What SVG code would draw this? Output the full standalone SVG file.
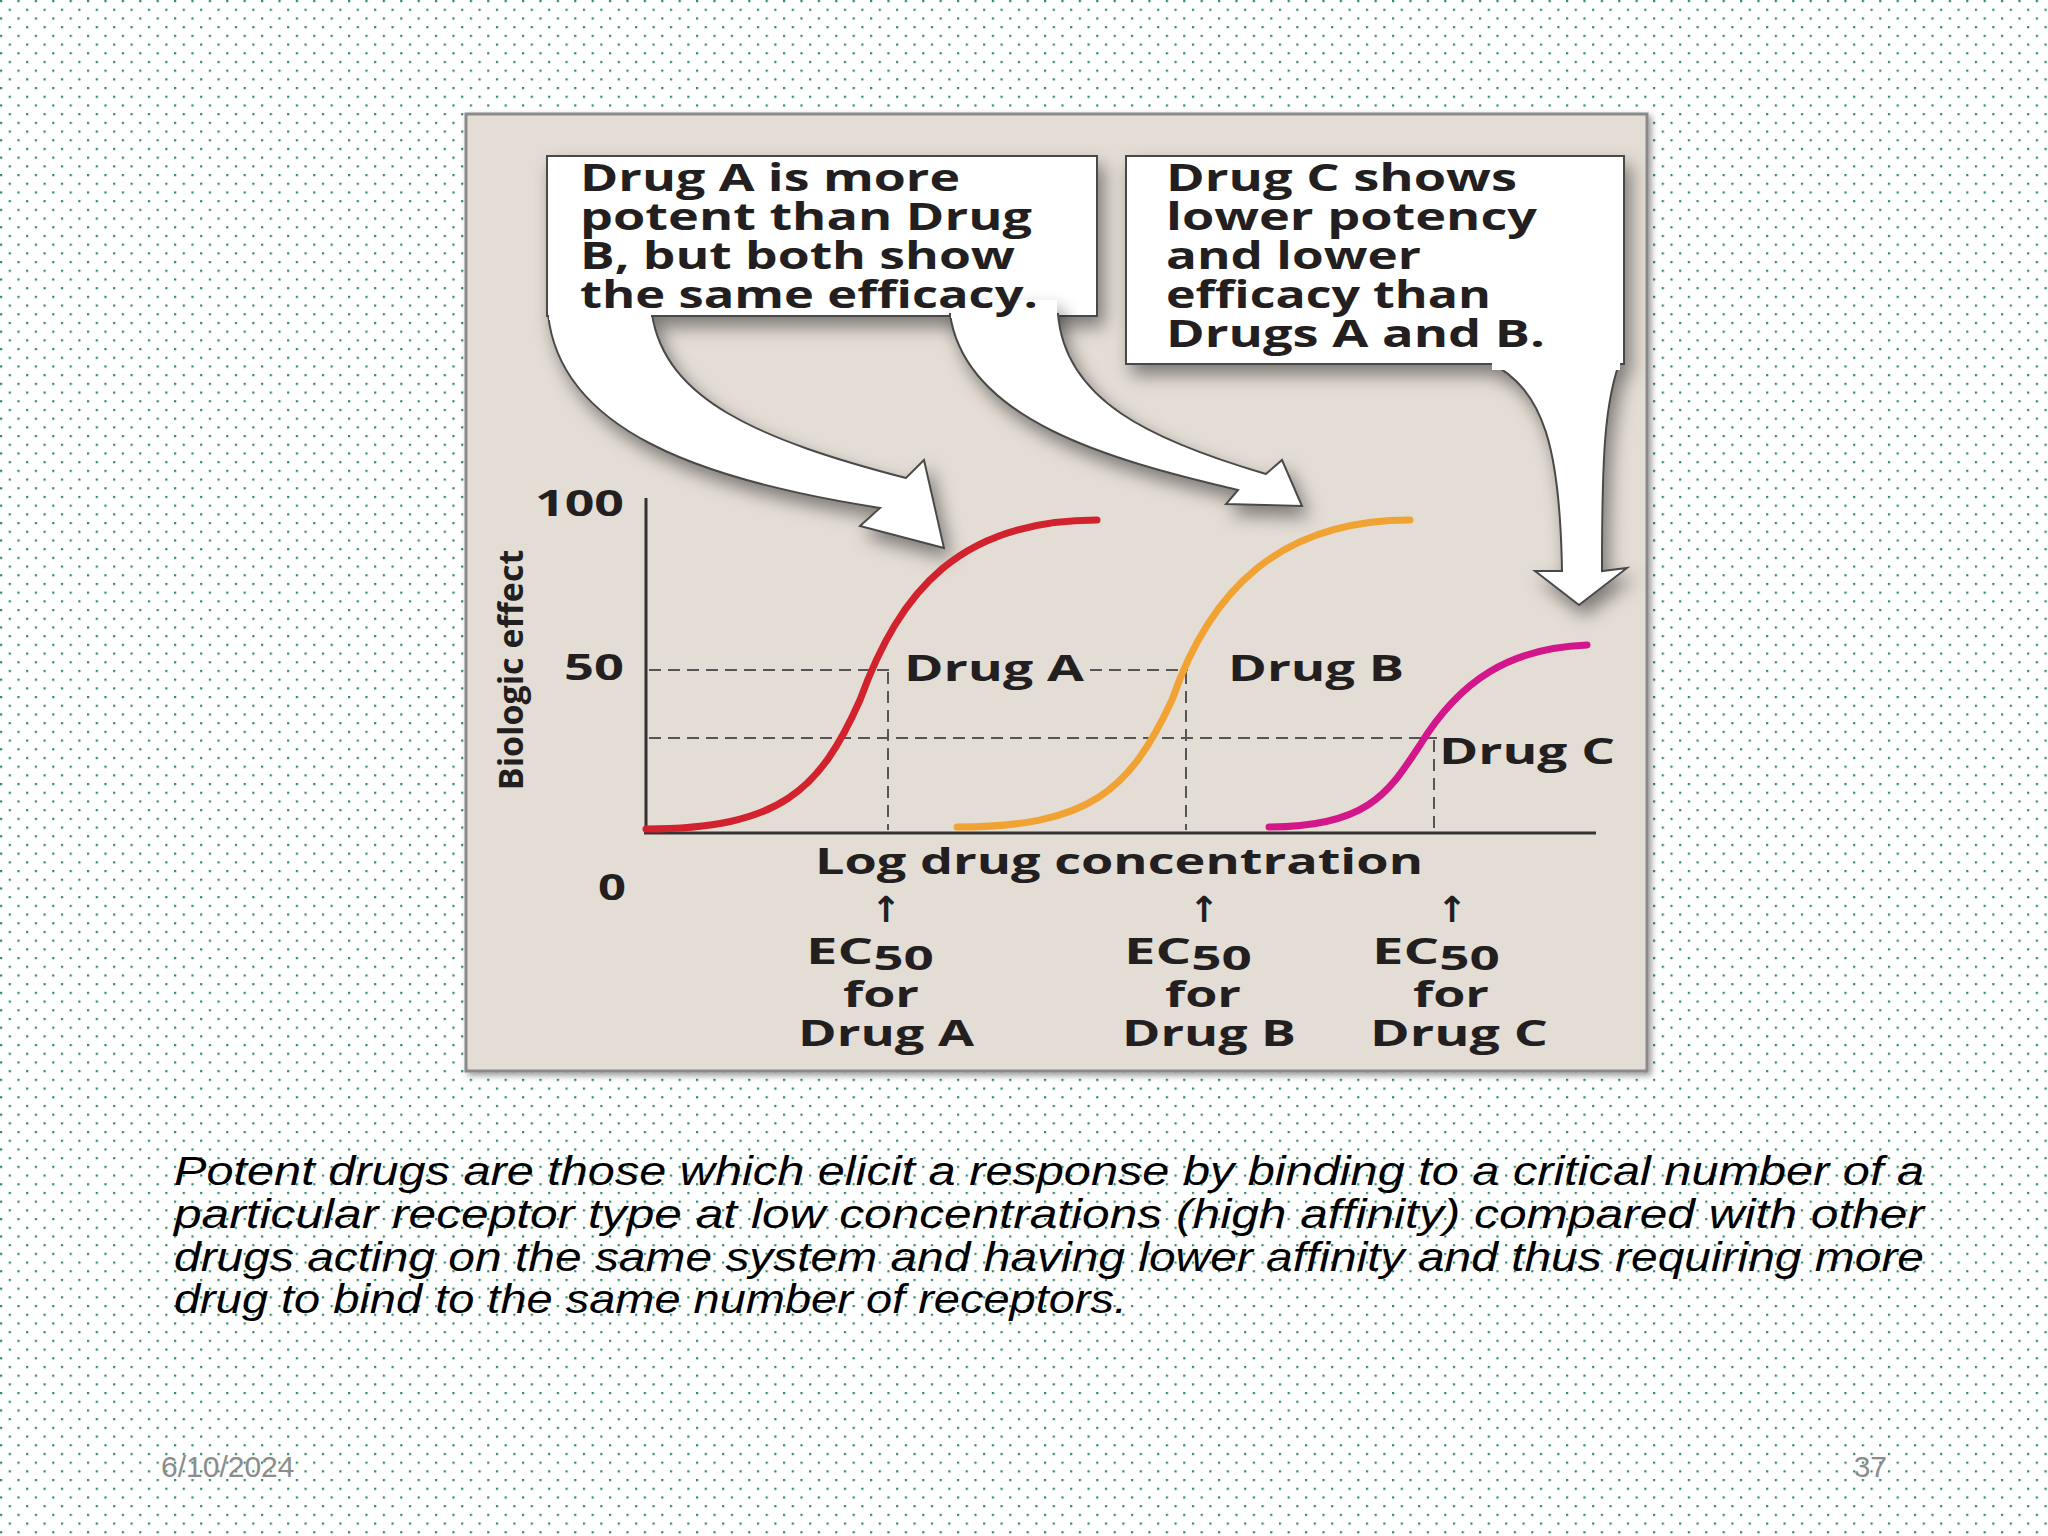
<svg xmlns="http://www.w3.org/2000/svg" width="2048" height="1536" viewBox="0 0 2048 1536">
<defs>
<pattern id="dots" width="17.4" height="17.4" patternUnits="userSpaceOnUse">
<rect x="0" y="0" width="2.2" height="2.2" fill="#2e8b6e"/>
<rect x="8.7" y="8.7" width="2.2" height="2.2" fill="#2e8b6e"/>
</pattern>
<filter id="sh" x="-20%" y="-20%" width="140%" height="140%">
<feDropShadow dx="6" dy="10" stdDeviation="9" flood-color="#000" flood-opacity="0.45"/>
</filter>
<filter id="psh" x="-5%" y="-5%" width="110%" height="110%">
<feDropShadow dx="3" dy="3" stdDeviation="3" flood-color="#000" flood-opacity="0.4"/>
</filter>
</defs>
<style>
.b{font-family:"Open Sans","DejaVu Sans",sans-serif;font-weight:bold;fill:#231f20}
.call{font-size:37px}
.lab{font-size:36px}
.w{fill:#fff;stroke:#4a4a4a;stroke-width:2}
.dash{stroke:#555;stroke-width:2;stroke-dasharray:12 7;fill:none}
.cur{fill:none;stroke-width:7;stroke-linecap:round}
.body{font-family:"Liberation Sans",Arial,sans-serif;font-style:italic;font-size:41px;fill:#000}
.foot{font-family:"Liberation Sans",Arial,sans-serif;font-size:30px;fill:#8c8c8c}
</style>
<rect width="2048" height="1536" fill="#fff"/>
<rect width="2048" height="1536" fill="url(#dots)"/>
<g id="panel">
<rect x="466" y="114" width="1181" height="957" fill="#e4ddd5" stroke="#8a8a8a" stroke-width="3" filter="url(#psh)"/>
</g>
<g id="callouts">
<g id="callout-a" filter="url(#sh)">
<path class="w" d="M548,314 C560,430 700,480 880,508 L860,526 L944,548 L924,460 L906,478 C760,440 665,400 652,314 Z"/>
<rect class="w" x="547" y="156" width="550" height="160"/>
<rect x="549" y="300" width="102" height="20" fill="#fff"/>
</g>
<g id="callout-b" filter="url(#sh)">
<path class="w" d="M950,314 C965,420 1110,460 1238,490 L1226,504 L1302,506 L1282,460 L1266,474 C1150,440 1065,400 1058,314 Z"/>
<rect x="951" y="300" width="106" height="18" fill="#fff"/>
</g>
<g id="callout-c" filter="url(#sh)">
<path class="w" d="M1489,362 C1545,390 1560,450 1562,571 L1535,571 L1579,605 L1627,568 L1602,571 C1602,460 1604,400 1622,356 Z"/>
<rect class="w" x="1126" y="156" width="498" height="208"/>
<rect x="1492" y="350" width="128" height="20" fill="#fff"/>
</g>
<text class="b call" x="580" y="191" textLength="380" lengthAdjust="spacingAndGlyphs">Drug A is more</text>
<text class="b call" x="580" y="230" textLength="452" lengthAdjust="spacingAndGlyphs">potent than Drug</text>
<text class="b call" x="580" y="269" textLength="435" lengthAdjust="spacingAndGlyphs">B, but both show</text>
<text class="b call" x="580" y="308" textLength="458" lengthAdjust="spacingAndGlyphs">the same efficacy.</text>
<text class="b call" x="1166" y="191" textLength="351" lengthAdjust="spacingAndGlyphs">Drug C shows</text>
<text class="b call" x="1166" y="230" textLength="371" lengthAdjust="spacingAndGlyphs">lower potency</text>
<text class="b call" x="1166" y="269" textLength="255" lengthAdjust="spacingAndGlyphs">and lower</text>
<text class="b call" x="1166" y="308" textLength="325" lengthAdjust="spacingAndGlyphs">efficacy than</text>
<text class="b call" x="1166" y="347" textLength="379" lengthAdjust="spacingAndGlyphs">Drugs A and B.</text>
</g>
<g id="connectors">
<line x1="646" y1="498" x2="646" y2="834" stroke="#333" stroke-width="3"/>
<line x1="644" y1="833" x2="1596" y2="833" stroke="#333" stroke-width="3"/>
<path class="dash" d="M649,670 H890 M1090,670 H1188"/>
<path class="dash" d="M888,672 V830 M1186,672 V830 M1434,740 V830"/>
<path class="dash" d="M649,738 H1437"/>
<path class="cur" stroke="#d1222e" d="M646,829 C780,829 820,790 860,700 C900,590 960,520 1097,520"/>
<path class="cur" stroke="#f0a233" d="M957,827 C1090,827 1130,790 1172,700 C1210,590 1280,520 1410,520"/>
<path class="cur" stroke="#d3168a" d="M1269,827 C1370,827 1390,790 1420,745 C1460,680 1510,648 1587,645"/>
</g>
<g id="labels">
<text class="b lab" x="535" y="516" textLength="89" lengthAdjust="spacingAndGlyphs">100</text>
<text class="b lab" x="564" y="680" textLength="60" lengthAdjust="spacingAndGlyphs">50</text>
<text class="b lab" x="598" y="900" textLength="28" lengthAdjust="spacingAndGlyphs">0</text>
<text class="b" font-size="34" transform="translate(523,670) rotate(-90)" text-anchor="middle">Biologic effect</text>
<text class="b lab" x="904" y="681" textLength="180" lengthAdjust="spacingAndGlyphs">Drug A</text>
<text class="b lab" x="1228" y="681" textLength="176" lengthAdjust="spacingAndGlyphs">Drug B</text>
<text class="b lab" x="1439" y="764" textLength="176" lengthAdjust="spacingAndGlyphs">Drug C</text>
<text class="b lab" x="815" y="874" textLength="608" lengthAdjust="spacingAndGlyphs">Log drug concentration</text>
<text class="b lab" x="886" y="922" text-anchor="middle" font-weight="normal">↑</text>
<text class="b lab" x="806" y="964" textLength="128" lengthAdjust="spacingAndGlyphs">EC<tspan font-size="34" dy="6">50</tspan></text>
<text class="b lab" x="843" y="1007" textLength="76" lengthAdjust="spacingAndGlyphs">for</text>
<text class="b lab" x="798" y="1046" textLength="176" lengthAdjust="spacingAndGlyphs">Drug A</text>
<text class="b lab" x="1204" y="922" text-anchor="middle" font-weight="normal">↑</text>
<text class="b lab" x="1124" y="964" textLength="128" lengthAdjust="spacingAndGlyphs">EC<tspan font-size="34" dy="6">50</tspan></text>
<text class="b lab" x="1165" y="1007" textLength="76" lengthAdjust="spacingAndGlyphs">for</text>
<text class="b lab" x="1122" y="1046" textLength="174" lengthAdjust="spacingAndGlyphs">Drug B</text>
<text class="b lab" x="1452" y="922" text-anchor="middle" font-weight="normal">↑</text>
<text class="b lab" x="1372" y="964" textLength="128" lengthAdjust="spacingAndGlyphs">EC<tspan font-size="34" dy="6">50</tspan></text>
<text class="b lab" x="1413" y="1007" textLength="76" lengthAdjust="spacingAndGlyphs">for</text>
<text class="b lab" x="1370" y="1046" textLength="178" lengthAdjust="spacingAndGlyphs">Drug C</text>
</g>
<g id="caption">
<text class="body" x="174" y="1185" textLength="1750" lengthAdjust="spacingAndGlyphs">Potent drugs are those which elicit a response by binding to a critical number of a</text>
<text class="body" x="174" y="1228" textLength="1750" lengthAdjust="spacingAndGlyphs">particular receptor type at low concentrations (high affinity) compared with other</text>
<text class="body" x="174" y="1271" textLength="1750" lengthAdjust="spacingAndGlyphs">drugs acting on the same system and having lower affinity and thus requiring more</text>
<text class="body" x="174" y="1313" textLength="953" lengthAdjust="spacingAndGlyphs">drug to bind to the same number of receptors.</text>
<text class="foot" x="161" y="1477">6/10/2024</text>
<text class="foot" x="1887" y="1477" text-anchor="end">37</text>
</g>
</svg>
